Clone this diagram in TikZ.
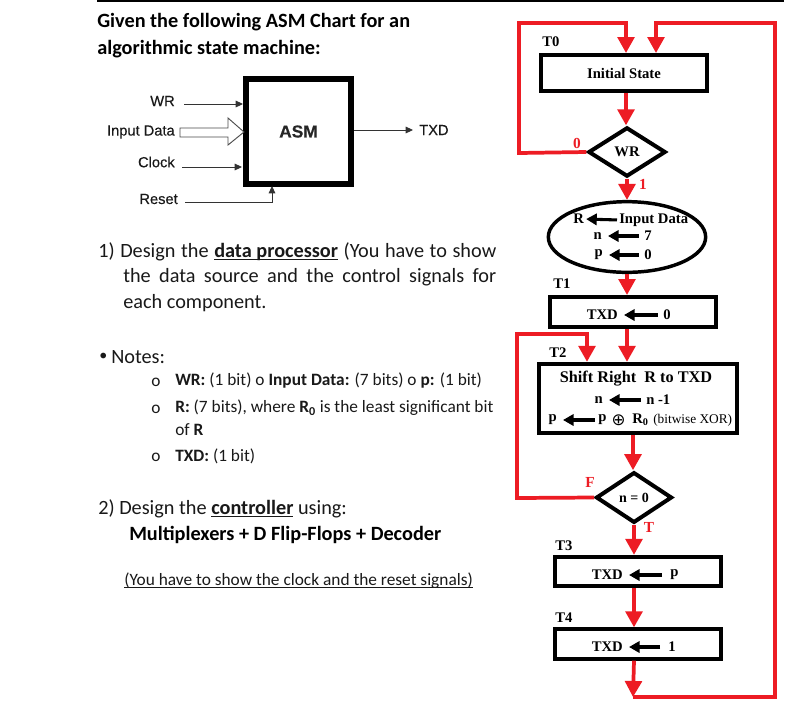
\documentclass[tikz,border=0pt]{standalone}
\usepackage{fontspec}
\setmainfont{Liberation Serif}
\newfontfamily\calfam{Carlito}
\newfontfamily\arsfam[FakeBold=0.35]{Liberation Sans}
\newfontfamily\symfam{DejaVu Sans}
\usetikzlibrary{arrows.meta,shapes.geometric,calc}
\definecolor{asmred}{RGB}{237,28,36}
\tikzset{
  flow/.style={draw=asmred,line width=2.8pt,-{Triangle[length=12pt,width=12.5pt,fill=asmred]}},
  boxs/.style={draw=black,line width=3pt,fill=white,inner sep=0pt,minimum width=124.5pt},
  dia/.style={draw=black,line width=3pt,fill=white,diamond,aspect=1.45,inner sep=0pt},
  tlab/.style={font=\bfseries\fontsize{11}{13}\selectfont,inner sep=0pt,anchor=west},
  rtxt/.style={font=\bfseries\fontsize{11}{13}\selectfont,inner sep=0pt},
  redl/.style={font=\bfseries\fontsize{11.5}{13}\selectfont,text=asmred,inner sep=0pt},
  assign/.style={line width=2.3pt,-{Triangle[length=8pt,width=8.5pt]},shorten >=4.5pt,shorten <=4pt},
  sig/.style={draw=black!80,line width=0.7pt,-{Triangle[length=5.5pt,width=5pt]}},
  sigl/.style={font=\arsfam\fontsize{11}{13}\selectfont,text=black!90,inner sep=0pt},
  para/.style={font=\calfam\fontsize{15.2}{18}\selectfont,inner sep=0pt,anchor=west,text=black!90},
  paraB/.style={font=\calfam\bfseries\fontsize{15.2}{18}\selectfont,inner sep=0pt,anchor=west},
  small/.style={font=\calfam\fontsize{13}{15}\selectfont,inner sep=0pt,anchor=west,text=black!90},
}
\newsavebox{\ulsave}
\newcommand{\myul}[2][0.7pt]{\sbox{\ulsave}{#2}\rlap{\rule[-1.7pt]{\wd\ulsave}{#1}}\usebox{\ulsave}}
\newcommand{\ulbf}[1]{\myul[1pt]{\textbf{#1}}}
\begin{document}
\begin{tikzpicture}[x=0.75pt,y=-0.75pt]
\useasboundingbox (0,0) rectangle (800,715);
\fill[white] (0,0) rectangle (800,715);
\coordinate (tl) at (97,1); \coordinate (tr) at (784,1);
\draw[line width=1.8pt] (tl) -- (tr);
% left text
\node[paraB] (h1) at (97,22) {Given the following ASM Chart for an};
\node[paraB] (h2) at (97,49) {algorithmic state machine:};
% block
\node[draw=black,line width=4.5pt,minimum width=78.75pt,inner sep=0pt,minimum height=78.75pt,font=\arsfam\bfseries\fontsize{13}{15}\selectfont,text=black!85] (asm) at (298.5,131.5) {ASM};
\node[sigl,anchor=east] (wrl) at (175,101) {WR};
\node[sigl,anchor=east] (idl) at (175,132) {Input Data};
\node[sigl,anchor=east] (ckl) at (175,162) {Clock};
\node[sigl,anchor=east] (rsl) at (178,199) {Reset};
\node[sigl,anchor=west] (txdl) at (419,130) {TXD};
\coordinate (wr0) at (184,104); \coordinate (wr1) at (243,104);
\coordinate (ck0) at (182,167); \coordinate (ck1) at (242,167);
\coordinate (rs0) at (185,202); \coordinate (rs1) at (272,202); \coordinate (rs2) at (272,186);
\coordinate (tx0) at (354,130); \coordinate (tx1) at (413,130);
\draw[sig] (wr0) -- (wr1);
\draw[sig] (ck0) -- (ck1);
\draw[sig] (rs0) -- (rs1) -- (rs2);
\draw[sig] (tx0) -- (tx1);
\coordinate (a0) at (180,128); \coordinate (a1) at (228,128); \coordinate (a2) at (228,118); \coordinate (a3) at (244,132); \coordinate (a4) at (228,145); \coordinate (a5) at (228,137); \coordinate (a6) at (180,137);
\draw[black!70,line width=0.7pt] (a0) -- (a1) -- (a2) -- (a3) -- (a4) -- (a5) -- (a6) -- cycle;
% paragraphs
\node[para] (p1a) at (98,252) {\makebox[298.5pt][s]{1) Design the \ulbf{data processor} (You have to show}};
\node[para] (p1b) at (123,277) {\makebox[279.7pt][s]{the data source and the control signals for}};
\node[para] (p1c) at (123,303) {each component.};
\node[para,font=\calfam\fontsize{12}{14}\selectfont] (n0b) at (99,357) {\textbullet};
\node[para] (n0) at (111,357) {Notes:};
\node[small] (n1) at (151,382) {o};
\node[small] (n1b) at (175,381) {\textbf{WR:} (1 bit) o \textbf{Input Data:} (7 bits) o \textbf{p:} (1 bit)};
\node[small] (n2) at (151,409) {o};
\node[small] (n2b) at (175,408) {\textbf{R:} (7 bits), where \textbf{R\textsubscript{0}} is the least significant bit};
\node[small] (n3) at (175,430) {of \textbf{R}};
\node[small] (n4) at (151,457) {o};
\node[small] (n4b) at (175,456) {\textbf{TXD:} (1 bit)};
\node[para] (p2a) at (98,509) {2) Design the \ulbf{controller} using:};
\node[paraB] (p2b) at (129,535) {Multiplexers + D Flip-Flops + Decoder};
\node[small] (p2c) at (124,581) {\myul{(You have to show the clock and the reset signals)}};
% chart nodes
\node[boxs,minimum height=27pt,rtxt] (t0) at (624,73) {Initial State};
\node[tlab] (t0l) at (542,42) {T0};
\node[dia,minimum width=58pt,minimum height=37pt,rtxt] (wr) at (627,152) {WR};
\node[draw=black,line width=2.6pt,ellipse,minimum width=118pt,minimum height=53pt,inner sep=0pt] (el) at (627,237) {};
\node[rtxt,anchor=west] (elr) at (573,219) {R};
\node[rtxt,anchor=west] (eld) at (619,220) {Input Data};
\node[rtxt,anchor=east] (eln) at (602,236) {n};
\node[rtxt,anchor=west] (el7) at (644,236) {7};
\node[rtxt,anchor=east] (elp) at (603,255) {p};
\node[rtxt,anchor=west] (el0) at (644,255) {0};
\draw[assign,shorten >=1.5pt,shorten <=1.5pt] (eld.west) -- (elr.east);
\draw[assign] (el7.west) -- (eln.east);
\draw[assign] (el0.west) -- (elp.east);
\node[tlab] (t1l) at (553,284) {T1};
\node[boxs,minimum height=22.5pt] (t1) at (633,312) {};
\node[rtxt,anchor=east] (t1a) at (618,315) {TXD};
\node[rtxt,anchor=west] (t1b) at (663,315) {0};
\draw[assign] (t1b.west) -- (t1a.east);
\node[tlab] (t2l) at (549,353) {T2};
\node[boxs,minimum width=148.5pt,minimum height=52pt] (t2) at (638,398.5) {};
\node[rtxt,anchor=center,font=\bfseries\fontsize{12.2}{14}\selectfont] (t2a) at (636,379) {Shift Right\ \ R to TXD};
\node[rtxt,anchor=east] (t2n) at (603,400) {n};
\node[rtxt,anchor=west] (t2m) at (646,400) {n -1};
\draw[assign] (t2m.west) -- (t2n.east);
\node[rtxt,anchor=east] (t2p) at (557,420) {p};
\node[rtxt,anchor=west] (t2q) at (598,420) {p};
\node[inner sep=0pt,font=\symfam\fontsize{12.5}{14}\selectfont] (t2x) at (618.5,420) {⊕};
\node[rtxt,anchor=west] (t2r) at (632,420) {R\textsubscript{0}};
\node[inner sep=0pt,anchor=west,font=\fontsize{10}{12}\selectfont] (t2s) at (653,420) {(bitwise XOR)};
\draw[assign,shorten <=2.5pt] (t2q.west) -- (t2p.east);
\node[dia,minimum width=57pt,minimum height=38pt,font=\bfseries\fontsize{10.5}{12}\selectfont] (nz) at (634,497.5) {n = 0};
\node[tlab] (t3l) at (555,546) {T3};
\node[boxs,minimum height=22pt] (t3) at (638,571.5) {};
\node[rtxt,anchor=east] (t3a) at (623,575) {TXD};
\node[rtxt,anchor=west] (t3b) at (670,575) {p};
\draw[assign,shorten <=6pt] (t3b.west) -- (t3a.east);
\node[tlab] (t4l) at (555,618) {T4};
\node[boxs,minimum height=22pt] (t4) at (638,644) {};
\node[rtxt,anchor=east] (t4a) at (623,647) {TXD};
\node[rtxt,anchor=west] (t4b) at (668,647) {1};
\draw[assign,shorten <=6pt] (t4b.west) -- (t4a.east);
% red connectors
\coordinate (c1) at (519,23); \coordinate (c2) at (519,153); \coordinate (c1e) at (626,23);
\coordinate (c3) at (775,23); \coordinate (c4) at (775,697); \coordinate (c5) at (656,23); \coordinate (c6) at (633,697);
\coordinate (c7) at (517,334); \coordinate (c8) at (517,498); \coordinate (c9) at (587,334);
\draw[flow] (wr.west) -- (c2) -- (c1) -- (c1e) -- (c1e |- t0.north);
\draw[flow] (c6) -- (c4) -- (c3) -- (c5) -- (c5 |- t0.north);
\draw[flow] (c1e |- t0.south) -- (c1e |- wr.north);
\draw[flow] (wr.south) -- (wr.south |- el.north);
\draw[flow] (el.south) -- (el.south |- t1.north);
\draw[flow] (el.south |- t1.south) -- (el.south |- t2.north);
\draw[flow] (nz.west) -- (c8) -- (c7) -- (c9) -- (c9 |- t2.north);
\draw[flow] (c6 |- t2.south) -- (c6 |- nz.north);
\draw[flow] (nz.south) -- (nz.south |- t3.north);
\draw[flow] (nz.south |- t3.south) -- (nz.south |- t4.north);
\draw[flow] (nz.south |- t4.south) -- (c6);
\node[redl] (l0) at (577,143) {0};
\node[redl] (l1) at (643,184) {1};
\node[redl] (lf) at (590,482) {F};
\node[redl] (lt) at (649,527) {T};
\end{tikzpicture}
\end{document}
